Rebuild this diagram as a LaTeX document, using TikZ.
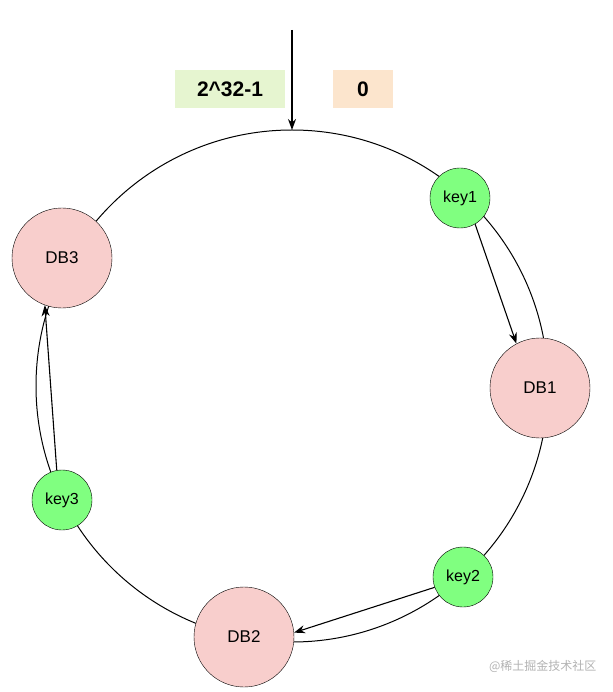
\documentclass[tikz,border=0pt]{standalone}
\usepackage{fontspec}
\setmainfont{Liberation Sans}
\newfontfamily\cjk{Noto Sans CJK SC}
\usetikzlibrary{arrows.meta}
\definecolor{dbfill}{HTML}{F8CECC}
\definecolor{keyfill}{HTML}{80FF80}
\definecolor{lblgreen}{HTML}{E6F5D0}
\definecolor{lblpeach}{HTML}{FCE5CD}
\tikzset{
 db/.style={circle,draw=black,fill=dbfill,minimum size=100pt,inner sep=0pt,font=\fontsize{17}{20}\selectfont},
 keyn/.style={circle,draw=black,fill=keyfill,minimum size=60pt,inner sep=0pt,font=\fontsize{16}{19}\selectfont},
 arr/.style={-{Stealth[length=11pt,width=8pt]},line width=1.1pt},
 lbl/.style={minimum height=38pt,font=\bfseries\fontsize{21}{24}\selectfont}
}
\begin{document}
\begin{tikzpicture}[x=1pt,y=-1pt]
\useasboundingbox (0,0) rectangle (612,692);
\draw[line width=1pt] (292,386) circle (256);
\node[lbl,fill=lblgreen,minimum width=110pt] (l1) at (230,89) {2\^{}32-1};
\node[lbl,fill=lblpeach,minimum width=60pt] (l0) at (363,89) {0};
\coordinate (top) at (292,30);
\coordinate (ring) at (292,130);
\draw[arr] (top) -- (ring);
\node[db] (DB3) at (62,258) {DB3};
\node[db] (DB1) at (540,388) {DB1};
\node[db] (DB2) at (244,637) {DB2};
\node[keyn] (key1) at (460,198) {key1};
\node[keyn] (key2) at (463,577) {key2};
\node[keyn] (key3) at (62,500) {key3};
\draw[arr] (key1.300) -- (DB1.118);
\draw[arr] (key2.200) -- (DB2.5);
\draw[arr] (key3.100) -- (DB3.250);
\node[text=gray!60,font=\cjk\fontsize{12}{14}\selectfont,anchor=east] (wm) at (600,666) {@稀土掘金技术社区};
\end{tikzpicture}
\end{document}
